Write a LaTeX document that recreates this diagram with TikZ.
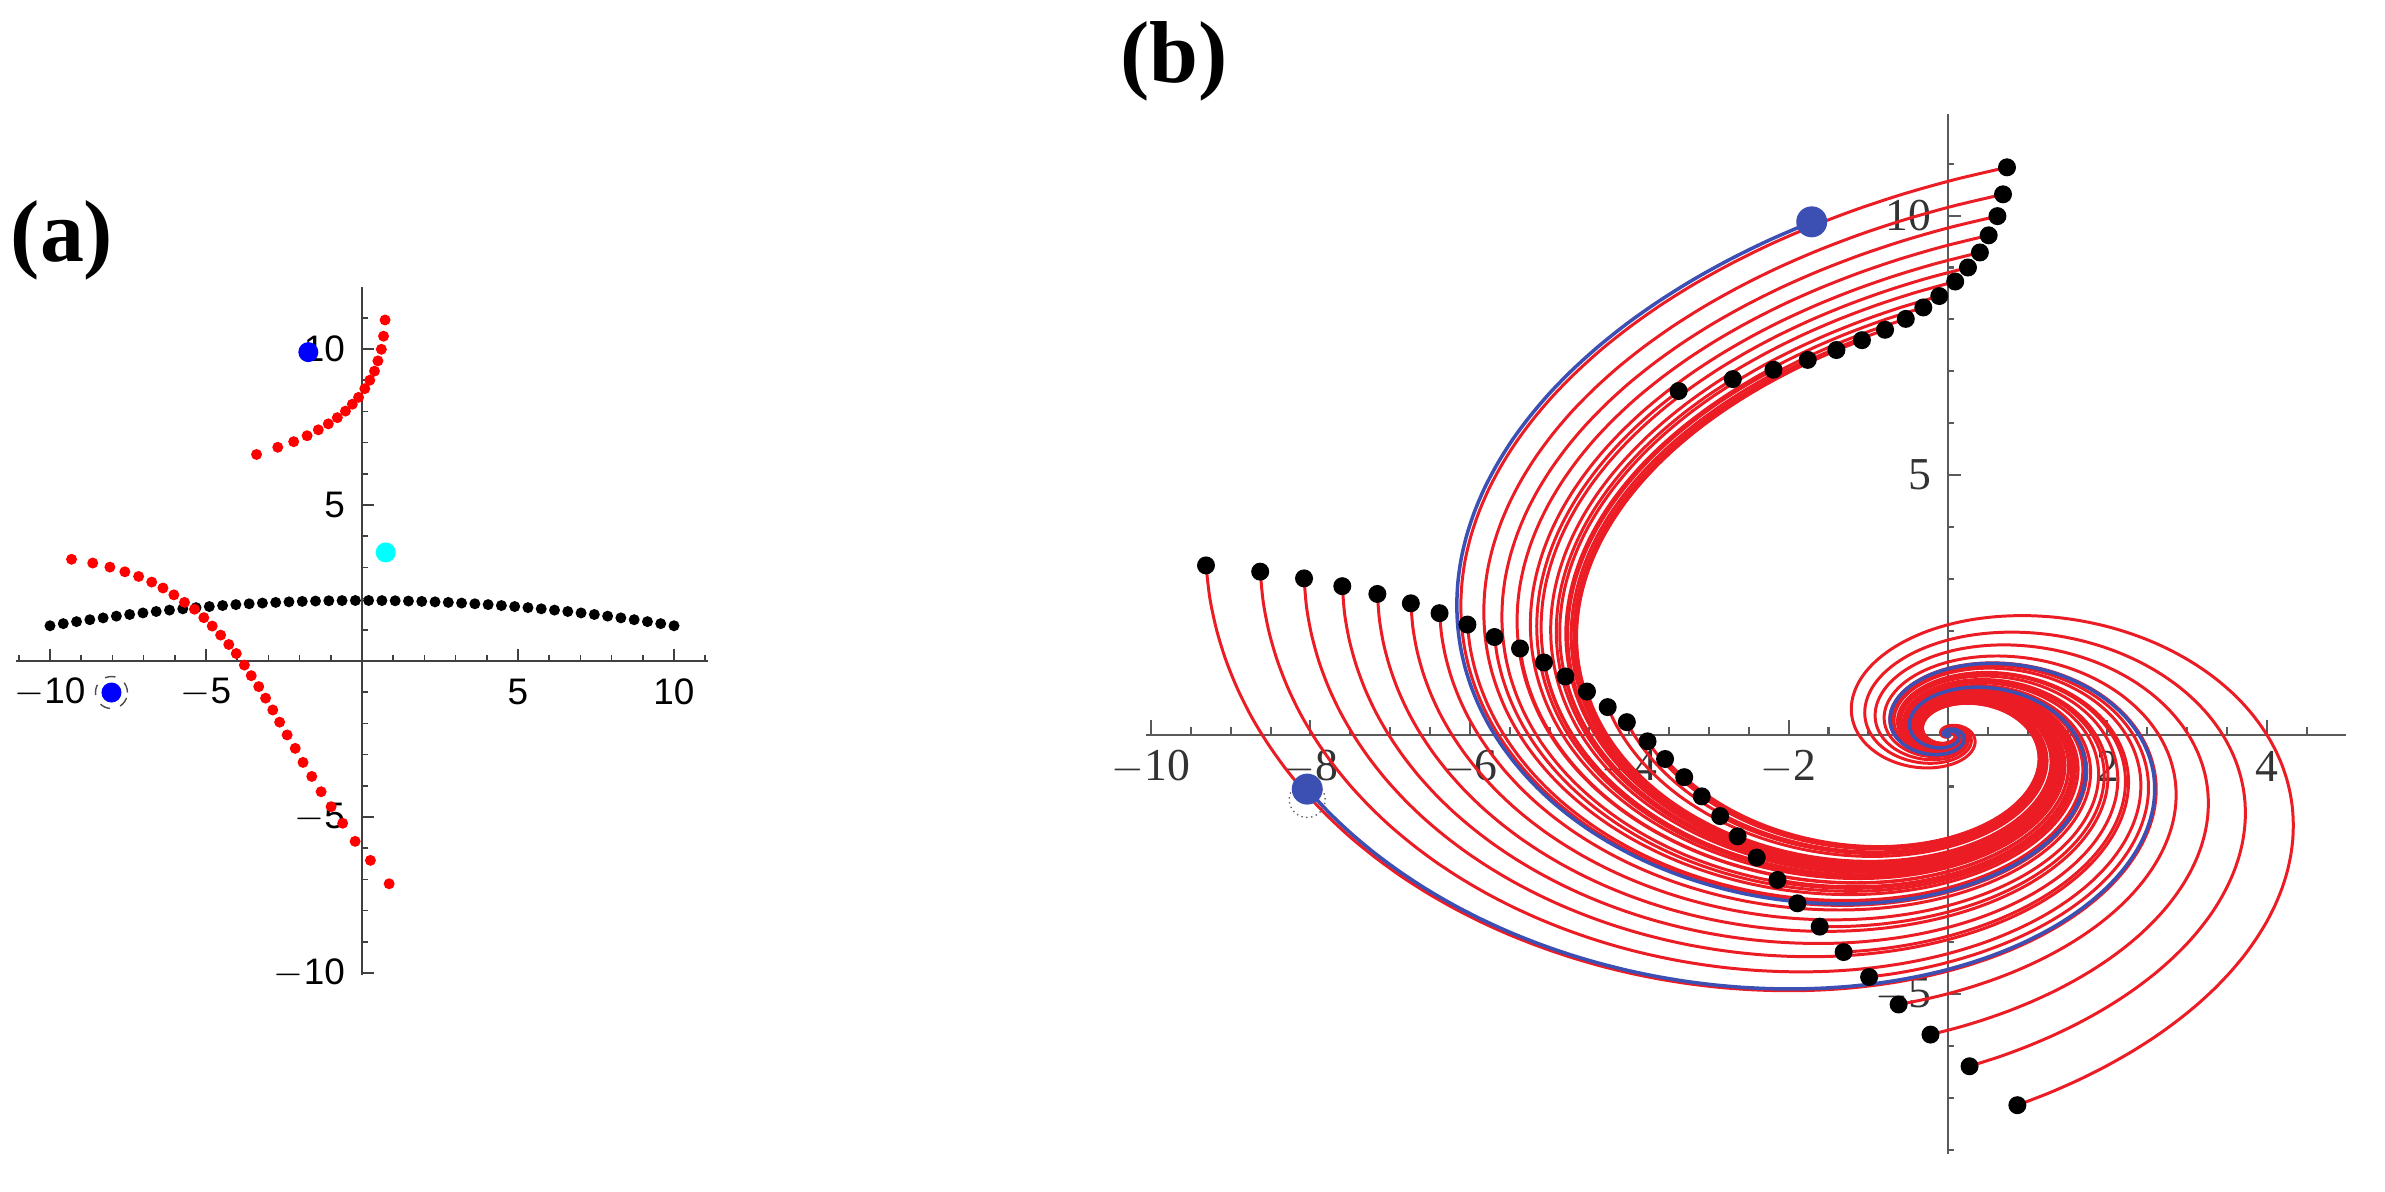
\documentclass[tikz,border=0pt]{standalone}
\usepackage{fontspec}
\setmainfont{Liberation Serif}
\newfontfamily\arialf{Liberation Sans}
\definecolor{myred}{RGB}{236,28,36}
\definecolor{myblue}{RGB}{60,80,180}
\definecolor{pureblue}{RGB}{0,0,255}
\definecolor{purecyan}{RGB}{0,255,255}
\definecolor{axgray}{RGB}{90,90,90}
\tikzset{
  rdot/.style={circle,fill=red,inner sep=0pt,minimum size=0.11cm},
  kdot/.style={circle,fill=black,inner sep=0pt,minimum size=0.11cm},
  bigdot/.style={circle,inner sep=0pt,minimum size=0.2cm},
  bdot/.style={circle,fill=black,inner sep=0pt,minimum size=0.18cm},
  bbdot/.style={circle,fill=myblue,inner sep=0pt,minimum size=0.31cm},
  axa/.style={line width=0.5pt,black!75},
  axb/.style={line width=0.6pt,axgray},
  labA/.style={font=\arialf\fontsize{10.5}{12}\selectfont},
  labB/.style={font=\fontsize{13}{15}\selectfont,text=black!80},
  traj/.style={myred,line width=0.85pt},
  btraj/.style={myblue,line width=1pt},
  panellab/.style={font=\bfseries\fontsize{25}{30}\selectfont}
}
\def\upperpts{-3.38/6.62,-2.70/6.85,-2.19/7.03,-1.76/7.22,-1.40/7.41,-1.08/7.60,-0.79/7.80,-0.53/8.01,-0.31/8.23,-0.11/8.45,0.09/8.73,0.25/9.00,0.40/9.29,0.51/9.62,0.62/9.99,0.69/10.41,0.74/10.93}
\def\lowerpts{-9.31/3.26,-8.63/3.14,-8.08/3.01,-7.60/2.86,-7.16/2.71,-6.74/2.53,-6.38/2.34,-6.03/2.12,-5.69/1.88,-5.37/1.66,-5.07/1.39,-4.80/1.12,-4.53/0.83,-4.27/0.53,-4.03/0.24,-3.77/-0.13,-3.55/-0.47,-3.31/-0.82,-3.09/-1.19,-2.86/-1.57,-2.64/-1.96,-2.40/-2.37,-2.14/-2.80,-1.89/-3.25,-1.61/-3.70,-1.31/-4.19,-0.99/-4.67,-0.62/-5.20,-0.22/-5.78,0.27/-6.39,0.87/-7.14}
\begin{document}
\begin{tikzpicture}
\useasboundingbox (0,0) rectangle (23.85,11.91);
\node[panellab] (la) at (0.62,9.51) {(a)};
\node[panellab] (lb) at (11.74,11.30) {(b)};
% ---------------- panel (a)
\begin{scope}[shift={(3.62,5.30)},scale=0.312]
  \draw[axa] (-11.1,0) -- (11.1,0);
  \draw[axa] (0,-10.05) -- (0,12);
  \foreach \k in {-11,...,11}{\draw[axa] (\k,0) -- (\k,0.2);}
  \foreach \k in {-10,-5,5,10}{\draw[axa] (\k,0) -- (\k,0.38);}
  \foreach \k in {-10,...,11}{\draw[axa] (0,\k) -- (0.2,\k);}
  \foreach \k in {-10,-5,5,10}{\draw[axa] (0,\k) -- (0.38,\k);}
  \foreach \k/\t in {-10/{$-$10},-5/{$-$5},5/5,10/10}{\node[labA] (xa\k) at (\k,-1.0) {\t};}
  \foreach \k/\t in {-10/{$-$10},-5/{$-$5},5/5,10/10}{\node[labA,anchor=east] (ya\k) at (-0.15,\k) {\t};}
  \foreach \i in {0,...,47}{\node[kdot] (ka\i) at ({-10+\i*20/47},{1.94-0.0081*(-10+\i*20/47)^2}) {};}
  \foreach \px/\py [count=\i] in \upperpts {\node[rdot] (ua\i) at (\px,\py) {};}
  \foreach \px/\py [count=\i] in \lowerpts {\node[rdot] (la\i) at (\px,\py) {};}
  \node[bigdot,fill=pureblue] (ba1) at (-1.72,9.90) {};
  \node[bigdot,fill=pureblue] (ba2) at (-8.03,-1.01) {};
  \node[circle,draw=black!70,dashed,line width=0.4pt,minimum width=0.26cm,minimum height=0.32cm,inner sep=0pt] (bc2) at (-8.03,-1.01) {};
  \node[bigdot,fill=purecyan] (ca) at (0.76,3.48) {};
\end{scope}
% ---------------- panel (b)
\begin{scope}[shift={(19.48,4.564)},xscale=0.797,yscale=0.519]
  \draw[axb] (-10.06,0) -- (4.99,0);
  \draw[axb] (0,-8.08) -- (0,11.96);
  \foreach \k in {-20,...,9}{\draw[axb] (\k/2,0) -- (\k/2,0.14);}
  \foreach \k in {-10,-8,-6,-4,-2,2,4}{\draw[axb] (\k,0) -- (\k,0.28);}
  \foreach \k in {-8,...,11}{\draw[axb] (0,\k) -- (0.08,\k);}
  \foreach \k in {-5,5,10}{\draw[axb] (0,\k) -- (0.16,\k);}
  \foreach \k/\t in {-10/{$-$10},-8/{$-$8},-6/{$-$6},-4/{$-$4},-2/{$-$2},2/2,4/4}{\node[labB] (xb\k) at (\k,-0.62) {\t};}
  \foreach \k/\t in {-5/{$-$5},5/5,10/10}{\node[labB,anchor=east] (yb\k) at (-0.05,\k) {\t};}
  \foreach \px/\py in \upperpts {
    \pgfmathsetmacro\rr{veclen(\px,\py)}
    \pgfmathsetmacro\aa{atan2(\py,\px)}
    \draw[traj] plot[domain=0:19,samples=320,variable=\t,smooth] ({\rr*exp(-0.405*\t)*cos(\aa+deg(\t))},{\rr*exp(-0.405*\t)*sin(\aa+deg(\t))});
  }
  \foreach \px/\py in \lowerpts {
    \pgfmathsetmacro\rr{veclen(\px,\py)}
    \pgfmathsetmacro\aa{atan2(\py,\px)}
    \draw[traj] plot[domain=0:19,samples=320,variable=\t,smooth] ({\rr*exp(-0.405*\t)*cos(\aa+deg(\t))},{\rr*exp(-0.405*\t)*sin(\aa+deg(\t))});
  }
  \foreach \px/\py in {-1.71/9.88,-8.04/-1.05} {
    \pgfmathsetmacro\rr{veclen(\px,\py)}
    \pgfmathsetmacro\aa{atan2(\py,\px)}
    \draw[btraj] plot[domain=0:19,samples=320,variable=\t,smooth] ({\rr*exp(-0.405*\t)*cos(\aa+deg(\t))},{\rr*exp(-0.405*\t)*sin(\aa+deg(\t))});
  }
  \foreach \px/\py [count=\i] in \upperpts {\node[bdot] (ub\i) at (\px,\py) {};}
  \foreach \px/\py [count=\i] in \lowerpts {\node[bdot] (lb\i) at (\px,\py) {};}
  \node[circle,draw=black!60,densely dotted,line width=0.4pt,minimum size=0.36cm,inner sep=0pt] (bc4) at (-8.04,-1.25) {};
  \node[bbdot] (bb1) at (-1.71,9.88) {};
  \node[bbdot] (bb2) at (-8.04,-1.05) {};
\end{scope}
\end{tikzpicture}
\end{document}
